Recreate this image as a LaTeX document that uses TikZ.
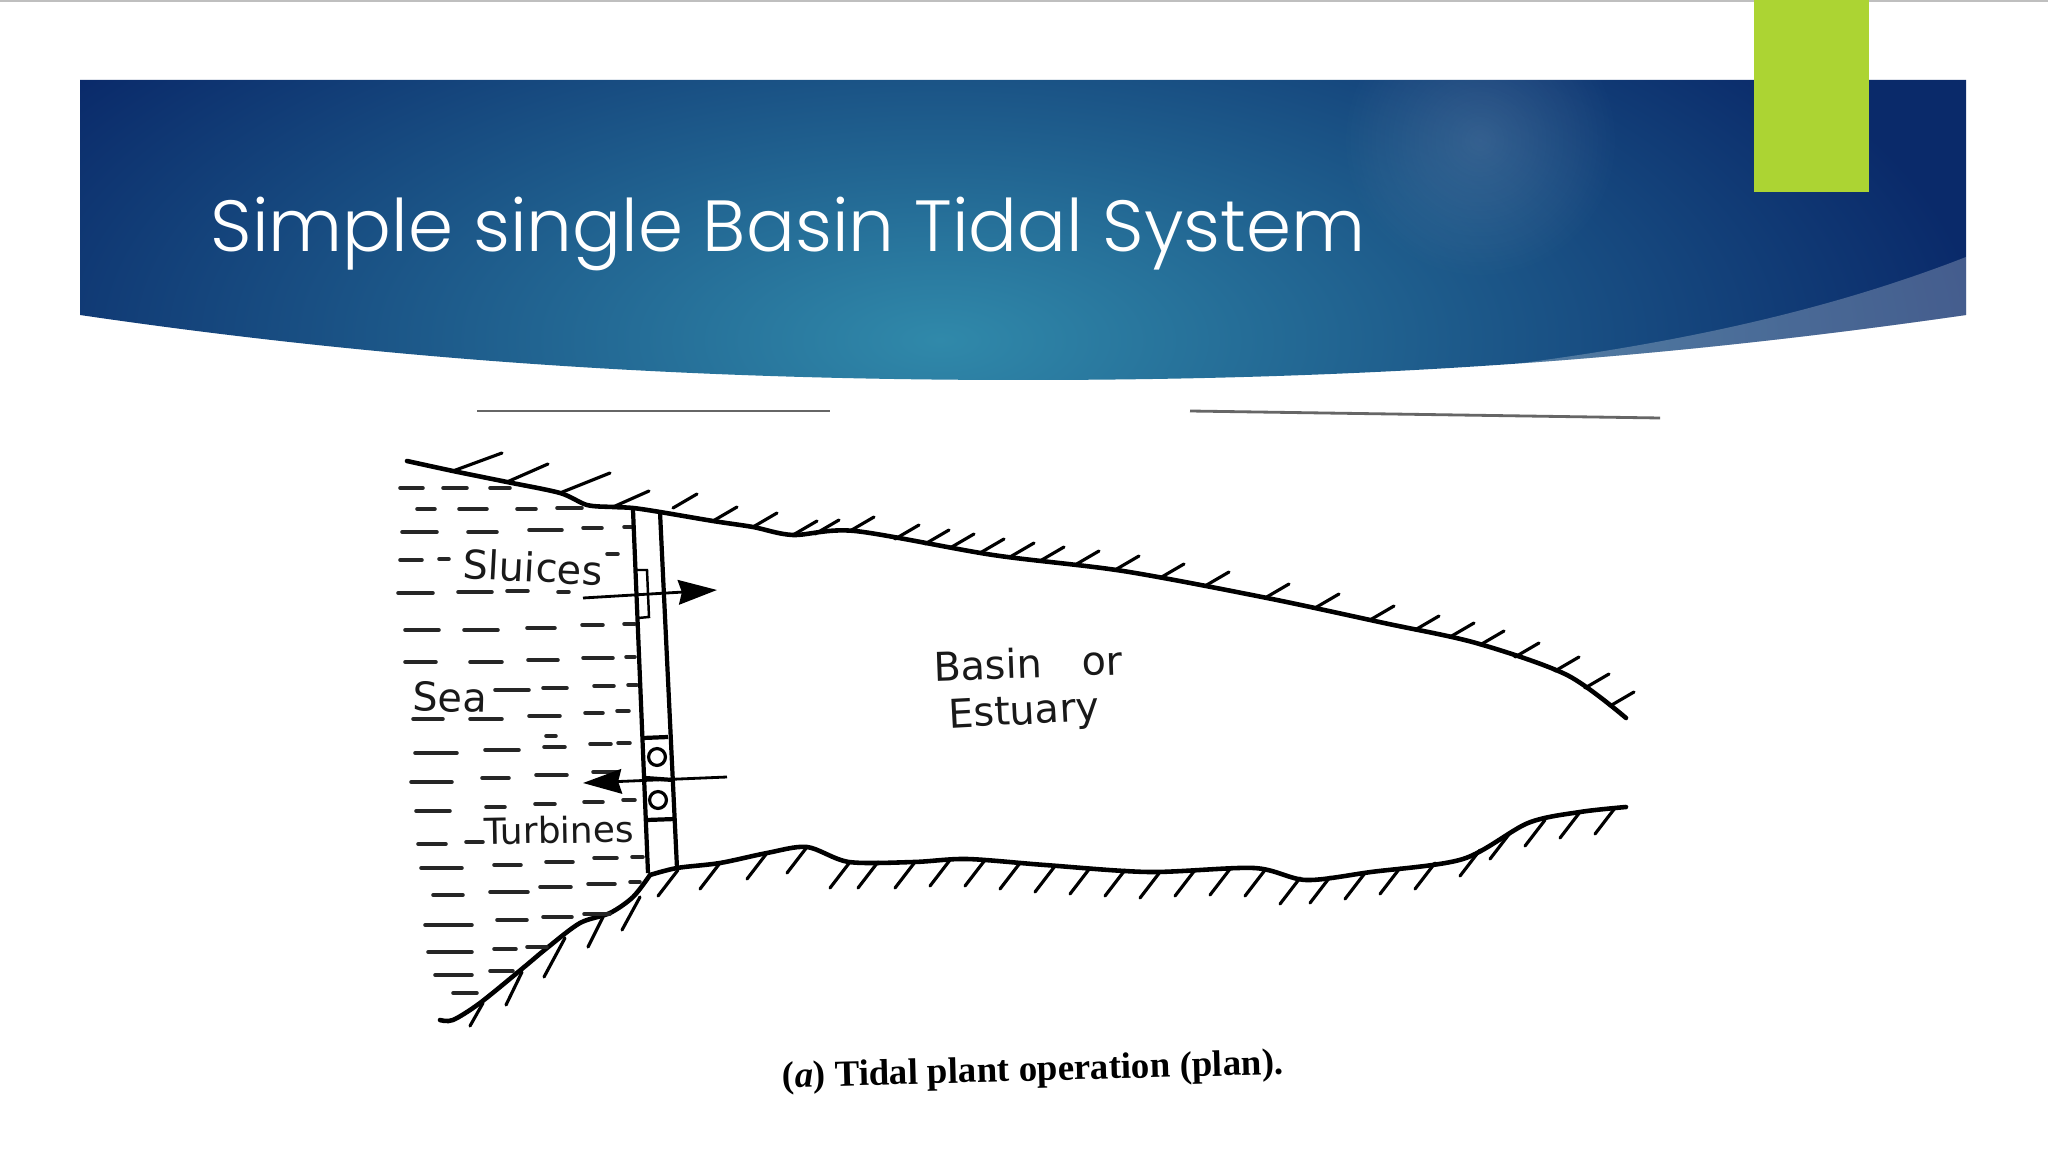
\documentclass[tikz,border=0pt]{standalone}
\usepackage{fontspec}
\setmainfont{DejaVu Sans}
\newfontfamily\titlefont{Poppins Light}
\newfontfamily\captionfont{Liberation Serif}
\usetikzlibrary{arrows.meta, fadings}
\definecolor{bannerteal}{HTML}{3089AA}
\definecolor{bannermid}{HTML}{226796}
\definecolor{bannernavy}{HTML}{0A2A6A}
\definecolor{accentgreen}{HTML}{ACD433}
\tikzfading[name=glowfade, inner color=transparent!0, outer color=transparent!100]

\begin{document}
\begin{tikzpicture}[
      x=0.01cm, y=-0.01cm,
      coast/.style={line width=1.3pt, line join=round, line cap=round},
      hatch/.style={line width=0.9pt, line cap=round},
      ripple/.style={line width=1pt, line cap=round, black!85},
      wall/.style={line width=1.2pt},
      arr/.style={-{Stealth[length=11pt, width=7pt, inset=1pt]}, line width=0.8pt},
      turbine/.style={draw, circle, line width=0.9pt, minimum size=4.8pt, inner sep=0pt},
      lettering/.style={font=\fontsize{11.3}{14}\selectfont, inner sep=0pt, text=black!90},
    ]
    \useasboundingbox (0,0) rectangle (2048,1152);
    \fill[white] (0,0) rectangle (2048,1152);
    \draw[black!25, line width=0.8pt] (0,1) -- (2048,1);

    %% --- Banner ---
    \begin{scope}
      \clip (80,80) -- (1966,80) -- (1966,315)
      .. controls (1640,362) and (1350,380) .. (1023,380)
      .. controls (700,380) and (400,362) .. (80,315) -- cycle;
      \shade[inner color=bannerteal, middle color=bannermid, outer color=bannernavy]
      (-100,-120) rectangle (1980,800);
      \fill[white, opacity=0.13, path fading=glowfade] (1340,0) rectangle (1620,280);
      \fill[white, opacity=0.24] (1966,257) .. controls (1825,312) and (1670,345) .. (1491,367)
      -- (1491,400) -- (1966,400) -- cycle;
    \end{scope}
    \fill[accentgreen] (1754,0) rectangle (1869,192);
    \node[anchor=base west, inner sep=0pt, text=white] (title) at (210,252)
    {\titlefont\fontsize{20.6}{25}\selectfont Simple single Basin Tidal System};

    %% --- Scan edge marks ---
    \draw[black!60, line width=0.8pt] (477,411) -- (830,411);
    \draw[black!60, line width=0.8pt] (1190,411) -- (1660,418);

    %% --- Coast lines ---
    \draw[coast] plot[smooth, tension=.5] coordinates {
      (407,461) (453,471) (507,482) (560,493) (587,505) (613,507) (633,508) (660,512)
      (713,521) (753,527) (793,535) (855,531) (993,555) (1123,571) (1267,598)
      (1384,623) (1476,643) (1567,675) (1626,718)};
    \draw[coast] plot[smooth, tension=.5] coordinates {
      (650,875) (677,868) (720,863) (767,853) (807,847) (849,862) (914,862) (967,859)
      (1045,865) (1149,872) (1254,868) (1306,880) (1371,872) (1463,859) (1528,823)
      (1580,812) (1626,807)};
    \draw[coast] plot[smooth, tension=.5] coordinates {
      (650,875) (633,897) (610,913) (580,923) (547,948) (523,968) (480,1003) (453,1020) (440,1020)};

    %% --- Hatching ---
    \draw[hatch] (453,471) -- (502,453);
    \draw[hatch] (507,482) -- (548,464);
    \draw[hatch] (560,493) -- (610,473);
    \draw[hatch] (613,507) -- (649,491);
    \foreach \x/\y in {673/508, 713/521, 753/527, 793/535, 815/534, 850/531, 895/539, 925/544,
        950/548, 980/553, 1010/557, 1040/561, 1075/565, 1115/570, 1160/578, 1205/586,
        1265/598, 1315/608, 1370/620, 1415/630, 1450/637, 1480/645, 1515/657, 1555/671,
        1585/688, 1610/706}
      \draw[hatch] (\x,\y) -- ++(24,-14);
    \foreach \x/\y in {678/870, 720/863, 767/853, 807/847, 850/862, 878/862, 915/862,
        950/860, 985/860, 1020/863, 1055/866, 1090/868, 1125/870, 1160/872, 1195/870,
        1230/869, 1265/870, 1300/878, 1330/877, 1365/873, 1400/868, 1435/863, 1480/850,
        1510/833, 1545/820, 1580/812, 1615/808}
      \draw[hatch] (\x,\y) -- ++(-20,26);
    \draw[hatch] (640,897) -- (622,930);
    \draw[hatch] (603,917) -- (588,947);
    \draw[hatch] (565,938) -- (544,977);
    \draw[hatch] (522,972) -- (506,1005);
    \draw[hatch] (483,1003) -- (470,1026);

    %% --- Sea ripples ---
    \foreach \xa/\xb/\y in {400/423/488, 443/467/488, 490/510/488,
        417/435/509, 459/487/509, 517/536/509, 557/582/508,
        402/437/532, 468/497/532, 529/562/530, 583/602/528, 624/632/527,
        400/422/560, 439/449/559, 607/618/554,
        398/433/593, 458/492/592, 507/528/591, 558/569/592,
        405/439/630, 464/498/630, 527/555/628, 582/603/625, 624/635/624,
        405/436/662, 470/502/662, 528/558/660, 583/613/658, 626/635/657,
        495/529/690, 543/567/688, 594/614/686, 628/637/685,
        413/443/719, 470/502/719, 529/560/716, 585/603/713, 617/629/711,
        546/556/736,
        415/457/753, 485/519/750, 544/565/747, 590/611/744, 618/630/743,
        411/452/782, 482/509/778, 536/567/775, 593/618/772,
        416/450/811, 486/505/807, 535/555/804, 584/603/802, 623/635/800,
        418/446/844, 466/483/842,
        421/462/868, 494/521/865, 546/573/862, 594/617/858, 632/643/857,
        433/463/895, 490/528/892, 540/571/887, 588/615/884, 630/640/882,
        425/472/925, 497/527/920, 543/572/917, 584/610/914,
        428/472/952, 494/516/949, 527/547/947,
        435/472/975, 490/513/971,
        453/477/993}
      \draw[ripple] (\xa,\y) -- (\xb,\y);

    %% --- Barrage ---
    \draw[wall] (633,510) -- (648,873);
    \draw[wall] (660,512) -- (677,868);
    \draw[wall] (643,738) -- (668,737);
    \draw[wall] (645,778) -- (673,780);
    \draw[wall] (647,820) -- (675,819);
    \draw[line width=0.7pt] (637,570) -- (647,570) -- (649,617) -- (638,618);
    \node[turbine] (turbineA) at (657,757) {};
    \node[turbine] (turbineB) at (658,800) {};

    %% --- Flow arrows ---
    \coordinate (sluicetail) at (583,598);
    \coordinate (sluicehead) at (717,590);
    \coordinate (turbinetail) at (727,777);
    \coordinate (turbinehead) at (583,783);
    \draw[arr] (sluicetail) -- (sluicehead);
    \draw[arr] (turbinetail) -- (turbinehead);

    %% --- Labels ---
    \node[lettering, rotate=-3] (sluices) at (533,567) {Sluices};
    \node[lettering, rotate=-2] (sea) at (450,697) {Sea};
    \node[lettering, rotate=1, font=\fontsize{10.2}{12}\selectfont] (turbines) at (559,830) {Turbines};
    \node[lettering, rotate=2] (basin) at (1028,663) {Basin\hspace{1em}or};
    \node[lettering, rotate=3] (estuary) at (1024,714) {Estuary};
    \node[inner sep=0pt, rotate=1.5] (caption) at (1033,1072)
    {\captionfont\bfseries\fontsize{10.5}{13}\selectfont (\textit{a}) Tidal plant operation (plan).};

  \end{tikzpicture}
\end{document}
